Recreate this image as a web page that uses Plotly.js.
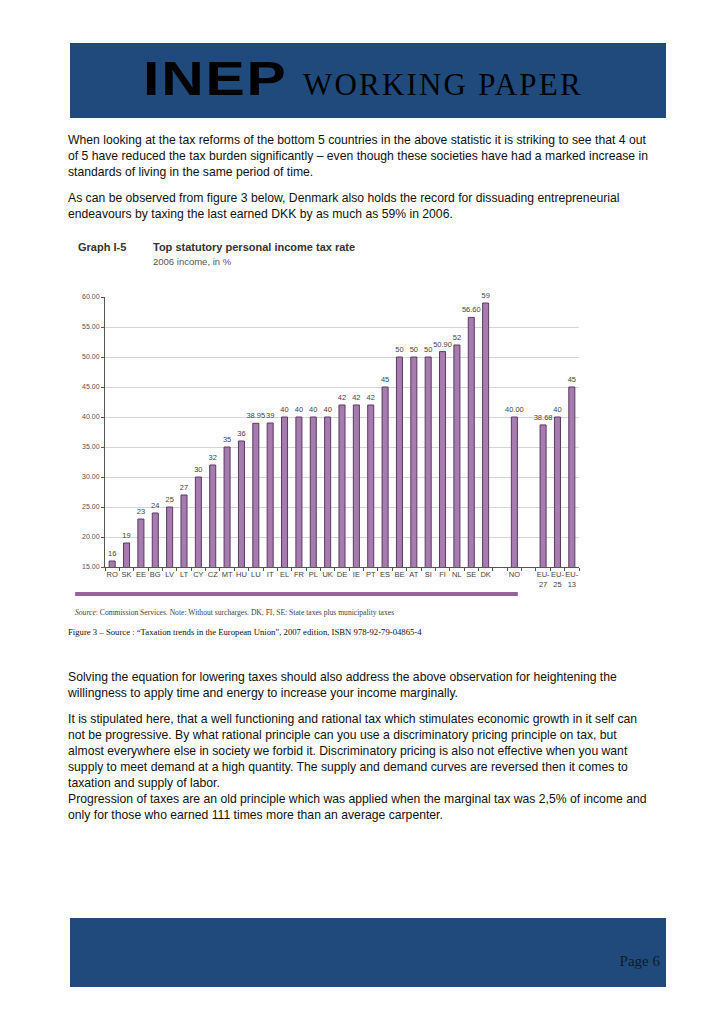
<!DOCTYPE html>
<html>
<head>
<meta charset="utf-8">
<script src="https://cdn.plot.ly/plotly-3.0.1.min.js"></script>
<style>
  html, body { margin:0; padding:0; background:#fff; }
  body { width:728px; height:1030px; position:relative; overflow:hidden; font-family:"Liberation Sans", Arial, sans-serif; }
  .band { position:absolute; left:70px; width:596px; background:#214a7c; }
  .p { position:absolute; left:68px; font-size:12.2px; line-height:16px; color:#111; white-space:pre; }
  #chart { position:absolute; left:60px; top:235px; width:540px; height:375px; }
  .serif { font-family:"Liberation Serif", "Times New Roman", serif; }
</style>
</head>
<body>
<div class="band" style="top:43px;height:75px;"></div>
<div style="position:absolute;left:143px;top:50px;font-family:'Liberation Sans',Arial,sans-serif;font-weight:bold;font-size:49px;color:#000;letter-spacing:1.5px;transform:scaleX(1.2);transform-origin:left top;">INEP</div>
<div class="serif" style="position:absolute;left:303px;top:67px;font-size:31px;color:#000;letter-spacing:2.2px;">WORKING PAPER</div>

<div class="p" style="top:132px;">When looking at the tax reforms of the bottom 5 countries in the above statistic it is striking to see that 4 out
of 5 have reduced the tax burden significantly – even though these societies have had a marked increase in
standards of living in the same period of time.</div>
<div class="p" style="top:190px;">As can be observed from figure 3 below, Denmark also holds the record for dissuading entrepreneurial
endeavours by taxing the last earned DKK by as much as 59% in 2006.</div>

<div id="chart"></div>

<div class="serif" style="position:absolute;left:75px;top:608px;font-size:7.6px;color:#444;white-space:pre;"><i>Source</i>: Commission Services. Note: Without surcharges. DK, FI, SE: State taxes plus municipality taxes</div>
<div class="serif" style="position:absolute;left:68px;top:627px;font-size:8.7px;color:#111;white-space:pre;">Figure 3 – Source : “Taxation trends in the European Union”, 2007 edition, ISBN 978-92-79-04865-4</div>

<div class="p" style="top:669px;">Solving the equation for lowering taxes should also address the above observation for heightening the
willingness to apply time and energy to increase your income marginally.</div>
<div class="p" style="top:711px;">It is stipulated here, that a well functioning and rational tax which stimulates economic growth in it self can
not be progressive. By what rational principle can you use a discriminatory pricing principle on tax, but
almost everywhere else in society we forbid it. Discriminatory pricing is also not effective when you want
supply to meet demand at a high quantity. The supply and demand curves are reversed then it comes to
taxation and supply of labor.
Progression of taxes are an old principle which was applied when the marginal tax was 2,5% of income and
only for those who earned 111 times more than an average carpenter.</div>

<div class="band" style="top:918px;height:69px;"></div>
<div class="serif" style="position:absolute;right:68px;top:953px;font-size:15px;color:#0b1a2e;">Page 6</div>

<script>
const codes = ["RO","SK","EE","BG","LV","LT","CY","CZ","MT","HU","LU","IT","EL","FR","PL","UK","DE","IE","PT","ES","BE","AT","SI","FI","NL","SE","DK","gap1","NO","gap2","EU-27","EU-25","EU-13"];
const tickLabels = ["RO","SK","EE","BG","LV","LT","CY","CZ","MT","HU","LU","IT","EL","FR","PL","UK","DE","IE","PT","ES","BE","AT","SI","FI","NL","SE","DK","","NO","","EU-<br>27","EU-<br>25","EU-<br>13"];
const values = [16,19,23,24,25,27,30,32,35,36,38.95,39,40,40,40,40,42,42,42,45,50,50,50,50.9,52,56.6,59,null,40,null,38.68,40,45];
const valueLabels = ["16","19","23","24","25","27","30","32","35","36","38.95","39","40","40","40","40","42","42","42","45","50","50","50","50.90","52","56.60","59","","40.00","","38.68","40","45"];

const trace = {
  type: "bar",
  x: codes,
  y: values,
  text: valueLabels,
  textposition: "outside",
  cliponaxis: false,
  constraintext: "none",
  textfont: { family: "Liberation Sans, Arial, sans-serif", size: 7.5, color: "#444" },
  marker: { color: "#a67cae", line: { color: "#5a3862", width: 1 } },
  width: 0.42,
  hoverinfo: "x+y"
};

const layout = {
  width: 540, height: 375,
  margin: { l: 45, r: 21, t: 62, b: 43 },
  paper_bgcolor: "#fff", plot_bgcolor: "#fff",
  showlegend: false,
  font: { family: "Liberation Sans, Arial, sans-serif", size: 7, color: "#555" },
  xaxis: {
    type: "category",
    categoryorder: "array", categoryarray: codes,
    tickvals: codes, ticktext: tickLabels,
    range: [-0.5, 32.5],
    tickson: "boundaries",
    ticks: "outside", ticklen: 3, tickcolor: "#555",
    showline: true, linecolor: "#555", linewidth: 1,
    showgrid: false,
    tickfont: { size: 7.5, color: "#444" },
    tickangle: 0, fixedrange: true
  },
  yaxis: {
    range: [15, 60], dtick: 5, tick0: 15,
    tickformat: ".2f",
    ticks: "outside", ticklen: 3, tickcolor: "#555",
    showline: true, linecolor: "#555", linewidth: 1,
    showgrid: true, gridcolor: "#d4d4d4", gridwidth: 1,
    zeroline: false,
    tickfont: { size: 7, color: "#555" },
    fixedrange: true
  },
  annotations: [
    { xref: "paper", yref: "paper", x: -0.0612, y: 1.185, xanchor: "left", yanchor: "middle", showarrow: false,
      text: "<b>Graph I-5</b>", font: { size: 11, color: "#333" } },
    { xref: "paper", yref: "paper", x: 0.097, y: 1.185, xanchor: "left", yanchor: "middle", showarrow: false,
      text: "<b>Top statutory personal income tax rate</b>", font: { size: 11, color: "#333" } },
    { xref: "paper", yref: "paper", x: 0.097, y: 1.13, xanchor: "left", yanchor: "middle", showarrow: false,
      text: "2006 income, in %", font: { size: 9.5, color: "#555" } }
  ],
  shapes: [
    { type: "line", xref: "paper", yref: "paper", x0: -0.063, x1: 0.871, y0: -0.1, y1: -0.1,
      line: { color: "#98629c", width: 4 } }
  ]
};

Plotly.newPlot("chart", [trace], layout, { displayModeBar: false, staticPlot: true });
</script>
</body>
</html>
